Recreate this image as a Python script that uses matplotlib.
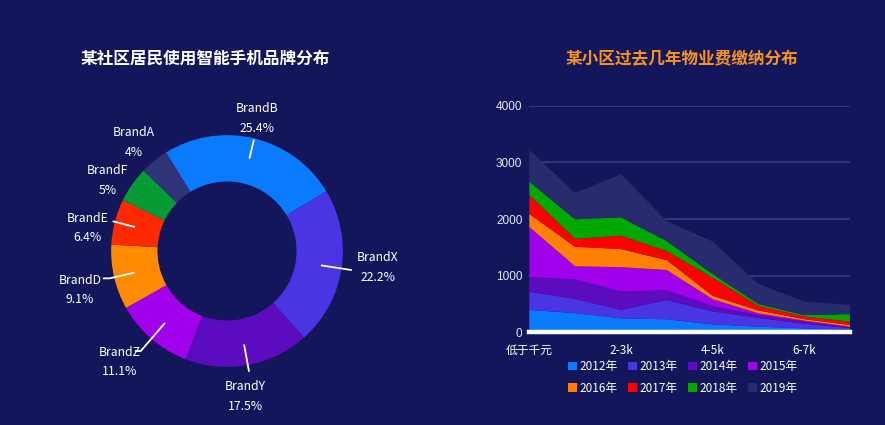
import numpy as np
import matplotlib
matplotlib.use('Agg')
import matplotlib.pyplot as plt
from matplotlib.patches import Patch

plt.rcParams['font.family'] = ['Noto Sans CJK SC', 'DejaVu Sans']

# ---------------- data ----------------
brands = ['BrandB', 'BrandX', 'BrandY', 'BrandZ', 'BrandD', 'BrandE', 'BrandF', 'BrandA']
shares = [25.4, 22.2, 17.5, 11.1, 9.1, 6.4, 5, 4]
brand_colors = ['#0a7bff', '#4a35e4', '#5c0bbf', '#a000ec', '#ff8a00', '#ff2a00', '#079b34', '#2f3478']

categories = ['低于千元', '1-2k', '2-3k', '3-4k', '4-5k', '5-6k', '6-7k', '7k以上']
years = ['2012年', '2013年', '2014年', '2015年', '2016年', '2017年', '2018年', '2019年']
v2012 = [395, 340, 245, 230, 140, 100, 70, 45]
v2013 = [320, 250, 150, 340, 230, 155, 80, 30]
v2014 = [260, 340, 325, 170, 90, 50, 40, 12]
v2015 = [885, 235, 430, 360, 125, 30, 17, 12]
v2016 = [230, 345, 320, 175, 60, 50, 25, 30]
v2017 = [335, 140, 235, 160, 320, 80, 47, 58]
v2018 = [235, 345, 325, 175, 65, 35, 25, 135]
v2019 = [560, 465, 760, 355, 575, 350, 240, 160]
year_colors = ['#0a7bff', '#4a35e4', '#5c0bbf', '#a000ec', '#ff8000', '#ff0000', '#00a800', '#282b6c']

# ---------------- figure ----------------
W, H = 885, 425
BG = '#13165a'
fig = plt.figure(figsize=(W / 100, H / 100), dpi=100, facecolor=BG)

def fx(px):
    return px / W

def fy(py):
    return 1 - py / H

# titles
fig.text(fx(205), fy(59), '某社区居民使用智能手机品牌分布', ha='center', va='center',
         fontsize=12, fontweight='bold', color='white')
fig.text(fx(682), fy(59), '某小区过去几年物业费缴纳分布', ha='center', va='center',
         fontsize=12, fontweight='bold', color='#f7941d')

# ---------------- donut ----------------
L = 1.45
size = 336
cx, cy = 227, 251
axp = fig.add_axes([fx(cx - size / 2), fy(cy + size / 2), size / W, size / H])
axp.set_facecolor('none')
start = 121.8
axp.pie(shares, colors=brand_colors, startangle=start, counterclock=False, radius=1,
        wedgeprops=dict(width=0.40, edgecolor='none'))
axp.set_xlim(-L, L)
axp.set_ylim(-L, L)
axp.set_aspect('equal')
axp.axis('off')

label_r = [1.18, 1.31, 1.26, 1.33, 1.31, 1.22, 1.20, 1.24]
label_shift = [0.8, 2.6, -3.0, -3.5, 1.5, 5.0, 4.3, 1.7]
line_out = [0.99, 1.09, 1.06, 1.14, 1.04, 1.02, None, None]
tail = [0, 0, 0, -0.05, -0.06, 0, 0, 0]
total = sum(shares)
cum = 0
for name, s, lr, sh, lo, tl in zip(brands, shares, label_r, label_shift, line_out, tail):
    mid = start - (cum + s / 2) / total * 360
    cum += s
    th = np.radians(mid)
    if lo is not None:
        x1, y1 = 0.82 * np.cos(th), 0.82 * np.sin(th)
        x2, y2 = lo * np.cos(th), lo * np.sin(th)
        axp.plot([x1, x2, x2 + tl], [y1, y2, y2], color='white', lw=1.3,
                 solid_capstyle='butt', clip_on=False)
    tt = np.radians(mid + sh)
    tx, ty = lr * np.cos(tt), lr * np.sin(tt)
    axp.text(tx, ty + 0.08, name, ha='center', va='center', color='white',
             fontsize=8.8, clip_on=False)
    axp.text(tx, ty - 0.09, f'{s:g}%', ha='center', va='center', color='white',
             fontsize=8.8, clip_on=False)

# ---------------- stacked area ----------------
x0, x1 = 529.3, 850
ytop, ybot = 105.7, 332.3
ax = fig.add_axes([fx(x0), fy(ybot), (x1 - x0) / W, (ybot - ytop) / H])
ax.set_facecolor('none')
xs = np.arange(len(categories))
series = [v2012, v2013, v2014, v2015, v2016, v2017, v2018, v2019]
ax.stackplot(xs, *series, colors=year_colors, linewidth=0, zorder=2)
ax.set_xlim(0, len(categories) - 1)
ax.set_ylim(0, 4000)
ax.set_yticks([0, 1000, 2000, 3000, 4000])
ax.yaxis.grid(True, color='#3a3f8c', lw=1.1, zorder=0)
ax.set_axisbelow(True)
ax.set_xticks(xs[::2])
ax.set_xticklabels(categories[::2])
ax.tick_params(axis='y', length=0, pad=5, labelsize=8.5, labelcolor='#e8e8f4')
ax.tick_params(axis='x', length=0, pad=8.5, labelsize=8.5, labelcolor='white')
for lab in ax.get_yticklabels():
    lab.set_family(['Liberation Sans', 'DejaVu Sans'])
for sp in ['left', 'right', 'top']:
    ax.spines[sp].set_visible(False)
ax.spines['bottom'].set_color('white')
ax.spines['bottom'].set_linewidth(3.2)
ax.spines['bottom'].set_zorder(5)

# legend laid out row by row (matplotlib fills columns first)
ncol = 4
order = [i * ncol + j for j in range(ncol) for i in range(2)]
handles = [Patch(facecolor=year_colors[k], edgecolor='none') for k in order]
labels = [years[k] for k in order]
fig.legend(handles, labels, ncol=ncol, loc='center', bbox_to_anchor=(fx(683), fy(377.5)),
           frameon=False, fontsize=8.5, labelcolor='white', handlelength=0.7,
           handleheight=0.7, handletextpad=0.25, columnspacing=0.9, labelspacing=0.7,
           borderpad=0)

fig.savefig('out.png', dpi=100, facecolor=BG)
